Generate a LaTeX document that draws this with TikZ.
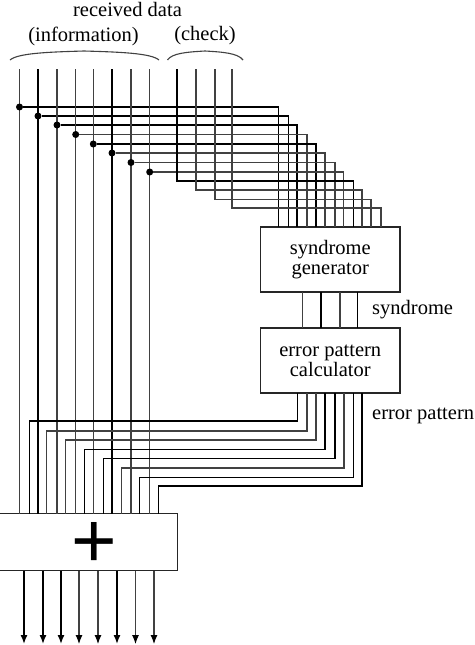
\documentclass[tikz,border=0pt]{standalone}
\usepackage{fontspec}
\setmainfont{Liberation Serif}
\newfontfamily\plusfont{Liberation Sans}
\usepackage{xcolor}
\usetikzlibrary{arrows.meta}
\definecolor{wiregray}{RGB}{65,65,65}
\tikzset{
  thinwire/.style={draw=wiregray, line width=1.1pt},
  heavywire/.style={draw=black, line width=1.4pt},
  dotnode/.style={circle, fill=black, inner sep=0pt, minimum size=7pt},
  boxnode/.style={draw=black!85, line width=1.2pt, fill=white, inner sep=0pt, minimum width=139.5pt, minimum height=65pt, align=center},
  labelnode/.style={font=\fontsize{20.5}{20}\selectfont, inner sep=0pt, text=black},
}
\begin{document}
\begin{tikzpicture}[x=1pt, y=-1pt]
  \useasboundingbox (0,0) rectangle (474,645);

  % Blocks
  \node[boxnode, labelnode] (syngen) at (330.25,259.5) {syndrome\\generator};
  \node[boxnode, labelnode] (errcalc) at (330.25,360.5) {error pattern\\calculator};
  \node[boxnode, minimum width=180pt, minimum height=57pt] (adder) at (87.5,542) {};
  \node[font=\plusfont\fontsize{78}{78}\selectfont, inner sep=0pt] (plus) at (94,545) {+};

  % Received data lines and their taps
  \foreach \i/\x/\y/\xr/\vstyle/\hstyle in {
      1/19.5/107/278.3/thinwire/heavywire,
      2/38/116/288.6/heavywire/heavywire,
      3/57/125/297/thinwire/heavywire,
      4/75.7/134.5/307/thinwire/thinwire,
      5/93.3/144/316/thinwire/heavywire,
      6/112/153/325/heavywire/thinwire,
      7/131/162.5/335/thinwire/thinwire,
      8/149.7/172/343.5/thinwire/thinwire} {
    \coordinate (dtop\i) at (\x,69);
    \coordinate (dbot\i) at (\x,513.5);
    \coordinate (gin\i) at (\xr,227);
    \draw[\vstyle] (dtop\i) -- (dbot\i);
    \node[dotnode] (tap\i) at (\x,\y) {};
    \draw[\hstyle] (tap\i) -| (gin\i);
  }

  % Check lines
  \foreach \i/\x/\y/\xr/\wstyle in {
      9/177/181/353.7/heavywire,
      10/196/190/362/thinwire,
      11/215/199.5/371/thinwire,
      12/232/208/381/thinwire} {
    \coordinate (ctop\i) at (\x,69);
    \coordinate (cbend\i) at (\xr,\y);
    \coordinate (gin\i) at (\xr,227);
    \draw[\wstyle] (ctop\i) |- (cbend\i) -- (gin\i);
  }

  % Syndrome
  \foreach \i/\x/\wstyle in {1/302.3/thinwire, 2/321/heavywire, 3/340/thinwire, 4/357.7/heavywire} {
    \coordinate (sout\i) at (\x,292);
    \coordinate (sin\i) at (\x,328);
    \draw[\wstyle] (sout\i) -- (sin\i);
  }

  % Error pattern
  \foreach \i/\x/\y/\xl/\wstyle in {
      1/297.3/421/29.3/heavywire,
      2/307/431/46.7/thinwire,
      3/316/440/65.3/thinwire,
      4/325/449.7/84.7/heavywire,
      5/335/458.3/103.3/heavywire,
      6/344/468/121.7/thinwire,
      7/353.7/477.7/139.7/heavywire,
      8/362/486/158.3/heavywire} {
    \coordinate (eout\i) at (\x,393);
    \coordinate (ebend\i) at (\xl,\y);
    \coordinate (ein\i) at (\xl,513.5);
    \draw[\wstyle] (eout\i) |- (ebend\i) -- (ein\i);
  }

  % Corrected outputs
  \foreach \i/\x/\wstyle in {
      1/24/heavywire, 2/43/heavywire, 3/61/heavywire, 4/79/thinwire,
      5/98/thinwire, 6/117/heavywire, 7/135.5/thinwire, 8/154/thinwire} {
    \coordinate (oin\i) at (\x,570.5);
    \coordinate (oend\i) at (\x,644);
    \draw[\wstyle, -{Latex[length=9pt, width=7pt, black]}] (oin\i) -- (oend\i);
  }

  % Braces over the inputs
  \coordinate (infoa) at (10,60);
  \coordinate (infob) at (84,51);
  \coordinate (infoc) at (159,60);
  \coordinate (checka) at (167.5,60);
  \coordinate (checkb) at (205,51);
  \coordinate (checkc) at (243,60);
  \draw[thinwire] (infoa) .. controls (18,53) and (50,52) .. (infob) .. controls (118,52) and (151,53) .. (infoc);
  \draw[thinwire] (checka) .. controls (172,53) and (188,52) .. (checkb) .. controls (222,52) and (238,53) .. (checkc);

  % Labels
  \node[labelnode] (received) at (127.5,9) {received data};
  \node[labelnode] (information) at (83.5,36) {(information)};
  \node[labelnode] (check) at (205,36) {(check)};
  \node[labelnode, anchor=west] (synlabel) at (372,310) {syndrome};
  \node[labelnode, anchor=west] (errlabel) at (372,416) {error pattern};
\end{tikzpicture}
\end{document}
